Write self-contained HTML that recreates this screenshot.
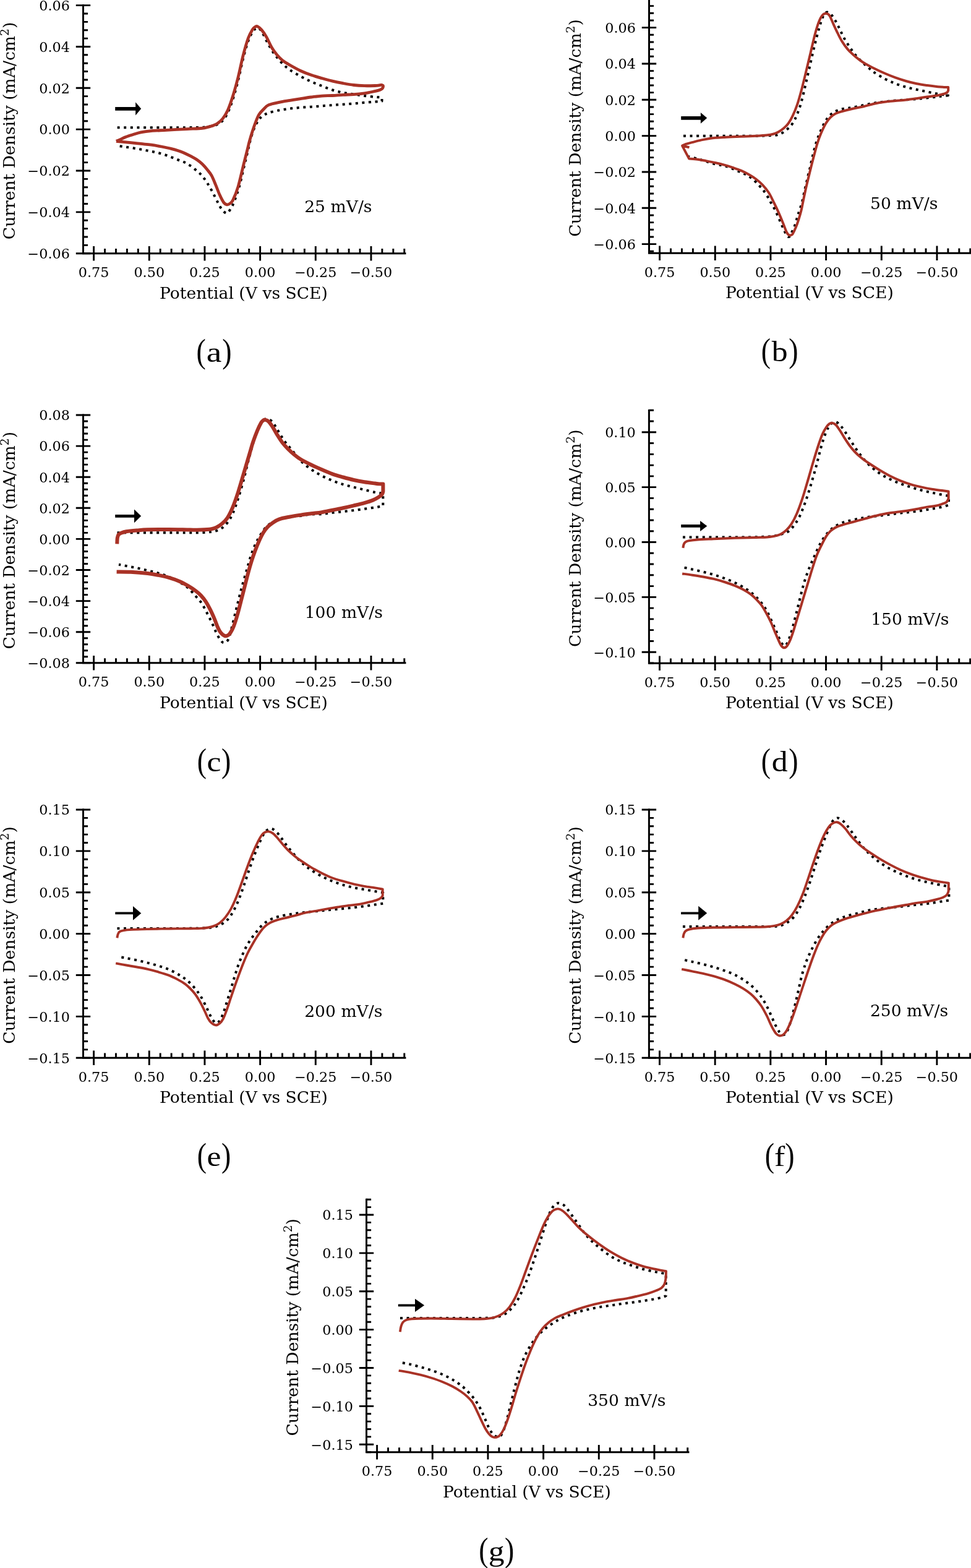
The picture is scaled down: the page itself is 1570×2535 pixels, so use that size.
<!DOCTYPE html>
<html lang="en">
<head>
<meta charset="utf-8">
<title>Cyclic voltammograms at different scan rates</title>
<style>
html,body{margin:0;padding:0;background:#fff;}
body{width:1570px;height:2535px;overflow:hidden;}
svg{display:block;}
text{white-space:pre;}
</style>
</head>
<body>
<svg xmlns="http://www.w3.org/2000/svg" width="1570" height="2535" viewBox="0 0 1570 2535" font-family='"DejaVu Serif","Liberation Serif",serif' fill="#000">
<g id="panel-a">
<path d="M134.5,7.15 V411.2M133,409.7 H656.45" fill="none" stroke="#000" stroke-width="3"/>
<path d="M122.8,409.7H146.2M134.5,396.33H142.1M134.5,382.96H142.1M134.5,369.59H142.1M134.5,356.22H142.1M122.8,342.85H146.2M134.5,329.48H142.1M134.5,316.11H142.1M134.5,302.74H142.1M134.5,289.37H142.1M122.8,276H146.2M134.5,262.63H142.1M134.5,249.26H142.1M134.5,235.89H142.1M134.5,222.52H142.1M122.8,209.15H146.2M134.5,195.78H142.1M134.5,182.41H142.1M134.5,169.04H142.1M134.5,155.67H142.1M122.8,142.3H146.2M134.5,128.93H142.1M134.5,115.56H142.1M134.5,102.19H142.1M134.5,88.82H142.1M122.8,75.45H146.2M134.5,62.08H142.1M134.5,48.71H142.1M134.5,35.34H142.1M134.5,21.97H142.1M122.8,8.6H146.2M653.78,402.1V409.7M635.85,402.1V409.7M617.91,402.1V409.7M599.98,398V421.4M582.04,402.1V409.7M564.1,402.1V409.7M546.17,402.1V409.7M528.24,402.1V409.7M510.3,398V421.4M492.37,402.1V409.7M474.43,402.1V409.7M456.5,402.1V409.7M438.56,402.1V409.7M420.62,398V421.4M402.69,402.1V409.7M384.75,402.1V409.7M366.82,402.1V409.7M348.88,402.1V409.7M330.95,398V421.4M313.01,402.1V409.7M295.08,402.1V409.7M277.14,402.1V409.7M259.21,402.1V409.7M241.27,398V421.4M223.34,402.1V409.7M205.4,402.1V409.7M187.47,402.1V409.7M169.53,402.1V409.7M151.6,398V421.4" fill="none" stroke="#000" stroke-width="2.9"/>
<g font-size="22.3" text-anchor="end"><text x="112.9" y="16.9">0.06</text><text x="112.9" y="83.75">0.04</text><text x="112.9" y="150.6">0.02</text><text x="112.9" y="217.45">0.00</text><text x="112.9" y="284.3">−0.02</text><text x="112.9" y="351.15">−0.04</text><text x="112.9" y="418">−0.06</text></g>
<g font-size="22.3" text-anchor="middle"><text x="151.6" y="448.2">0.75</text><text x="241.27" y="448.2">0.50</text><text x="330.95" y="448.2">0.25</text><text x="420.62" y="448.2">0.00</text><text x="510.3" y="448.2">−0.25</text><text x="599.98" y="448.2">−0.50</text></g>
<text x="393.95" y="482.9" font-size="26.6" text-anchor="middle">Potential (V vs SCE)</text>
<text transform="translate(24.2,211.45) rotate(-90)" font-size="26.6" text-anchor="middle">Current Density (mA/cm<tspan dy="-10.2" font-size="18.62">2</tspan><tspan dy="10.2">)</tspan></text>
<path d="M189.7,206.3C199.75,206.3 231.62,206.32 250,206.3C268.38,206.28 287.5,206.28 300,206.2C312.5,206.12 318.67,206.07 325,205.8C331.33,205.53 334.33,205.1 338,204.6C341.67,204.1 344.25,203.67 347,202.8C349.75,201.93 351.94,201.12 354.48,199.4C357.02,197.68 359.69,195.9 362.24,192.5C364.79,189.1 367.21,185 369.8,179C372.39,173 375.13,165.17 377.8,156.5C380.47,147.83 383.13,137.75 385.8,127C388.47,116.25 391.07,102.5 393.8,92C396.53,81.5 399.55,71 402.17,64C404.79,57 407.53,53 409.5,50C411.47,47 412.72,46.87 414,46C415.28,45.13 416.03,44.47 417.2,44.8C418.37,45.13 419.53,46.13 421,48C422.47,49.87 424,52.33 426,56C428,59.67 430.67,65.67 433,70C435.33,74.33 437.77,78.52 440,82C442.23,85.48 443.62,87.39 446.4,90.86C449.18,94.33 452.97,99.09 456.7,102.8C460.43,106.51 463.92,109.67 468.8,113.1C473.68,116.53 480.27,120.25 486,123.4C491.73,126.55 497.47,129.41 503.2,132C508.93,134.59 514.67,136.67 520.4,138.92C526.13,141.17 531.87,143.69 537.6,145.5C543.33,147.31 549.07,148.65 554.8,149.8C560.53,150.95 566.27,151.53 572,152.4C577.73,153.27 583.47,154.28 589.2,155C594.93,155.72 601.68,156.27 606.4,156.7C611.12,157.13 615.65,157.45 617.5,157.6L617.5,157.6L617.5,163.6L617.5,163.6C615.65,163.75 611.12,164.13 606.4,164.5C601.68,164.87 594.93,165.3 589.2,165.8C583.47,166.3 577.73,167 572,167.5C566.27,168 560.53,168.38 554.8,168.8C549.07,169.22 543.33,169.58 537.6,170C531.87,170.42 526.13,170.85 520.4,171.3C514.67,171.75 508.93,172.27 503.2,172.7C497.47,173.13 491.73,173.42 486,173.9C480.27,174.38 474.53,174.88 468.8,175.6C463.07,176.32 457.33,177.05 451.6,178.2C445.87,179.35 438.98,180.92 434.4,182.5C429.82,184.08 426.97,185.55 424.1,187.7C421.23,189.85 419.5,191.82 417.2,195.4C414.9,198.98 412.33,204.1 410.3,209.2C408.27,214.3 406.55,220.37 405,226C403.45,231.63 402.75,235.67 401,243C399.25,250.33 396.92,260 394.5,270C392.08,280 389.2,293.55 386.5,303C383.8,312.45 380.48,321.1 378.3,326.7C376.12,332.3 375.32,333.57 373.4,336.6C371.48,339.63 369.28,344.63 366.8,344.9C364.32,345.17 360.98,341.23 358.5,338.2C356.02,335.17 354.38,331.33 351.9,326.7C349.42,322.07 346.37,315.5 343.6,310.4C340.83,305.3 338.05,300.38 335.3,296.1C332.55,291.82 329.85,288 327.1,284.74C324.35,281.48 322.93,279.94 318.8,276.55C314.67,273.16 307.82,267.55 302.3,264.39C296.78,261.23 291.22,259.82 285.7,257.61C280.18,255.4 274.7,252.99 269.2,251.12C263.7,249.25 258.22,247.71 252.7,246.37C247.18,245.03 241.62,244.15 236.1,243.1C230.58,242.05 225.12,240.97 219.6,240.05C214.08,239.13 207.97,238.32 203,237.6C198.03,236.88 192,236.02 189.8,235.7" fill="none" stroke="#000" stroke-width="4" stroke-dasharray="4 6.6" stroke-linejoin="round"/>
<path d="M187.9,228.3C189.05,227.83 192.27,226.64 194.8,225.5C197.33,224.36 199.8,222.77 203.1,221.47C206.4,220.17 210.47,218.95 214.6,217.69C218.73,216.43 222.93,214.92 227.9,213.9C232.87,212.88 237.52,212.2 244.4,211.6C251.28,211 259.55,210.8 269.2,210.3C278.85,209.8 292.65,209.11 302.3,208.6C311.95,208.09 321.6,207.76 327.1,207.26C332.6,206.76 332.27,206.36 335.3,205.6C338.33,204.84 342.53,203.73 345.3,202.7C348.07,201.67 349.43,201.2 351.9,199.4C354.37,197.6 357.35,195.48 360.1,191.9C362.85,188.32 365.63,184.1 368.4,177.9C371.17,171.7 373.93,163.52 376.7,154.7C379.47,145.88 382.25,135.88 385,125C387.75,114.12 390.45,100.02 393.2,89.4C395.95,78.78 399.02,68.18 401.5,61.3C403.98,54.42 406.27,51.05 408.1,48.1C409.93,45.15 411.15,44.52 412.5,43.6C413.85,42.68 414.45,41.8 416.2,42.6C417.95,43.4 420.58,45.57 423,48.4C425.42,51.23 427.98,54.88 430.7,59.6C433.42,64.32 436.43,71.83 439.3,76.7C442.17,81.57 445,85.31 447.9,88.8C450.8,92.29 453.22,94.88 456.7,97.62C460.18,100.37 463.92,102.47 468.8,105.27C473.68,108.07 480.27,111.78 486,114.45C491.73,117.12 497.47,119.29 503.2,121.3C508.93,123.31 514.67,124.87 520.4,126.5C526.13,128.13 531.87,129.74 537.6,131.1C543.33,132.46 549.07,133.61 554.8,134.68C560.53,135.75 566.27,136.83 572,137.5C577.73,138.17 583.47,138.53 589.2,138.7C594.93,138.87 602.43,138.63 606.4,138.5C610.37,138.37 611.23,138.1 613,137.9C614.77,137.7 616.33,137.4 617,137.3L617,137.3C617.37,137.47 618.8,137.77 619.2,138.3C619.6,138.83 619.57,139.72 619.4,140.5C619.23,141.28 619.02,142.2 618.2,143C617.38,143.8 616.2,144.6 614.5,145.3C612.8,146 610.58,146.58 608,147.2C605.42,147.82 602.13,148.39 599,149C595.87,149.61 593.7,150.26 589.2,150.85C584.7,151.44 577.73,152.16 572,152.56C566.27,152.97 560.53,152.96 554.8,153.28C549.07,153.6 543.33,154.21 537.6,154.5C531.87,154.79 526.13,154.61 520.4,155.03C514.67,155.45 508.93,156.24 503.2,157C497.47,157.76 491.73,158.7 486,159.6C480.27,160.5 474.53,161.43 468.8,162.39C463.07,163.35 457.33,164.13 451.6,165.35C445.87,166.56 438.7,167.74 434.4,169.68C430.1,171.62 428.38,174.43 425.8,177C423.22,179.57 420.9,181.87 418.9,185.1C416.9,188.33 415.52,192.09 413.8,196.39C412.08,200.69 410.33,205.62 408.6,210.9C406.87,216.19 404.83,222.95 403.4,228.1C401.97,233.25 401.7,235.02 400,241.8C398.3,248.58 395.7,258.78 393.2,268.8C390.7,278.82 387.75,292.8 385,301.9C382.25,311 378.92,318.85 376.7,323.4C374.48,327.95 373.35,327.97 371.7,329.2C370.05,330.43 368.45,331.08 366.8,330.8C365.15,330.52 363.73,330.12 361.8,327.5C359.87,324.88 357.4,319.92 355.2,315.1C353,310.28 350.8,303.83 348.6,298.6C346.4,293.37 344.22,287.72 342,283.7C339.78,279.68 337.78,277.56 335.3,274.49C332.82,271.42 329.85,267.94 327.1,265.28C324.35,262.62 321.57,260.46 318.8,258.51C316.03,256.56 314.63,255.72 310.5,253.6C306.37,251.48 299.5,247.94 294,245.78C288.5,243.62 283.02,242.08 277.5,240.62C271.98,239.16 266.42,238.07 260.9,237C255.38,235.93 249.9,234.95 244.4,234.2C238.9,233.45 233.42,233.07 227.9,232.48C222.38,231.89 217.97,231.38 211.3,230.68C204.63,229.98 191.8,228.7 187.9,228.3" fill="none" stroke="#A93226" stroke-width="4.8" stroke-linejoin="round" stroke-linecap="butt"/>
<path d="M186.2,172.95H219.15V165.3L228.2,175.85L219.15,186.4V178.75H186.2z" fill="#000"/>
<text x="492.2" y="343.2" font-size="26.6">25 mV/s</text>
<g font-family='"Liberation Serif","DejaVu Serif",serif'><text transform="translate(317.44,585.8) scale(0.85,1)" font-size="54">(</text><text transform="translate(346,584.9) scale(1.18,1)" font-size="47" text-anchor="middle">a</text><text transform="translate(359.28,585.8) scale(0.85,1)" font-size="54">)</text></g>
</g>
<g id="panel-b">
<path d="M1049.5,-5 V410.7M1048,409.2 H1571.45" fill="none" stroke="#000" stroke-width="3"/>
<path d="M1049.5,406.27H1057.1M1037.8,394.6H1061.2M1049.5,382.93H1057.1M1049.5,371.27H1057.1M1049.5,359.6H1057.1M1049.5,347.93H1057.1M1037.8,336.27H1061.2M1049.5,324.6H1057.1M1049.5,312.93H1057.1M1049.5,301.27H1057.1M1049.5,289.6H1057.1M1037.8,277.93H1061.2M1049.5,266.27H1057.1M1049.5,254.6H1057.1M1049.5,242.93H1057.1M1049.5,231.26H1057.1M1037.8,219.6H1061.2M1049.5,207.93H1057.1M1049.5,196.26H1057.1M1049.5,184.6H1057.1M1049.5,172.93H1057.1M1037.8,161.26H1061.2M1049.5,149.6H1057.1M1049.5,137.93H1057.1M1049.5,126.26H1057.1M1049.5,114.6H1057.1M1037.8,102.93H1061.2M1049.5,91.26H1057.1M1049.5,79.6H1057.1M1049.5,67.93H1057.1M1049.5,56.26H1057.1M1037.8,44.6H1061.2M1049.5,32.93H1057.1M1049.5,21.26H1057.1M1049.5,9.6H1057.1M1049.5,-2.07H1057.1M1568.78,401.6V409.2M1550.84,401.6V409.2M1532.91,401.6V409.2M1514.97,397.5V420.9M1497.04,401.6V409.2M1479.1,401.6V409.2M1461.17,401.6V409.2M1443.23,401.6V409.2M1425.3,397.5V420.9M1407.36,401.6V409.2M1389.43,401.6V409.2M1371.49,401.6V409.2M1353.56,401.6V409.2M1335.62,397.5V420.9M1317.69,401.6V409.2M1299.75,401.6V409.2M1281.82,401.6V409.2M1263.88,401.6V409.2M1245.95,397.5V420.9M1228.01,401.6V409.2M1210.08,401.6V409.2M1192.14,401.6V409.2M1174.21,401.6V409.2M1156.27,397.5V420.9M1138.34,401.6V409.2M1120.4,401.6V409.2M1102.47,401.6V409.2M1084.53,401.6V409.2M1066.6,397.5V420.9" fill="none" stroke="#000" stroke-width="2.9"/>
<g font-size="22.3" text-anchor="end"><text x="1027.9" y="52.9">0.06</text><text x="1027.9" y="111.23">0.04</text><text x="1027.9" y="169.56">0.02</text><text x="1027.9" y="227.9">0.00</text><text x="1027.9" y="286.23">−0.02</text><text x="1027.9" y="344.57">−0.04</text><text x="1027.9" y="402.9">−0.06</text></g>
<g font-size="22.3" text-anchor="middle"><text x="1066.6" y="447.7">0.75</text><text x="1156.27" y="447.7">0.50</text><text x="1245.95" y="447.7">0.25</text><text x="1335.62" y="447.7">0.00</text><text x="1425.3" y="447.7">−0.25</text><text x="1514.97" y="447.7">−0.50</text></g>
<text x="1308.95" y="482.4" font-size="26.6" text-anchor="middle">Potential (V vs SCE)</text>
<text transform="translate(939.2,206.9) rotate(-90)" font-size="26.6" text-anchor="middle">Current Density (mA/cm<tspan dy="-10.2" font-size="18.62">2</tspan><tspan dy="10.2">)</tspan></text>
<path d="M1105,219.8C1114.17,219.8 1142.5,219.8 1160,219.8C1177.5,219.8 1197.5,219.83 1210,219.8C1222.5,219.77 1228.67,219.75 1235,219.6C1241.33,219.45 1244.33,219.17 1248,218.9C1251.67,218.63 1253.98,218.8 1257,218C1260.02,217.2 1263.15,215.9 1266.1,214.1C1269.05,212.3 1272.13,209.63 1274.7,207.2C1277.27,204.77 1279.2,203.08 1281.5,199.5C1283.8,195.92 1286.17,191.43 1288.52,185.7C1290.87,179.97 1293.26,173.4 1295.62,165.1C1297.98,156.8 1300.27,146.22 1302.69,135.9C1305.12,125.58 1307.72,113.82 1310.17,103.2C1312.62,92.58 1315.07,81.67 1317.4,72.2C1319.73,62.73 1322.05,53.7 1324.14,46.4C1326.23,39.1 1328.16,32.63 1329.94,28.4C1331.72,24.17 1333.39,22.43 1334.8,21C1336.21,19.57 1336.8,19.28 1338.4,19.8C1340,20.32 1342.25,21.67 1344.4,24.1C1346.55,26.53 1349,30.38 1351.3,34.4C1353.6,38.42 1355.92,43.62 1358.2,48.2C1360.48,52.78 1362.43,57.32 1365,61.9C1367.57,66.48 1370.73,71.4 1373.6,75.7C1376.47,80 1379.05,83.83 1382.2,87.7C1385.35,91.57 1389.05,95.47 1392.5,98.9C1395.95,102.33 1399.45,105.3 1402.9,108.3C1406.35,111.3 1408.62,113.73 1413.2,116.9C1417.78,120.07 1424.67,124.28 1430.4,127.3C1436.13,130.32 1441.87,132.77 1447.6,135C1453.33,137.23 1459.07,139.07 1464.8,140.7C1470.53,142.33 1476.27,143.52 1482,144.8C1487.73,146.08 1493.47,147.25 1499.2,148.4C1504.93,149.55 1510.77,150.73 1516.4,151.7C1522.03,152.67 1530.23,153.78 1533,154.2L1533,154.2C1530.23,154.53 1524.9,155.22 1516.4,156.2C1507.9,157.17 1493.47,158.99 1482,160.05C1470.53,161.11 1459.07,161.44 1447.6,162.54C1436.13,163.64 1424.67,164.81 1413.2,166.67C1401.73,168.53 1387.4,172.09 1378.8,173.7C1370.2,175.31 1366.47,175.15 1361.6,176.3C1356.73,177.45 1353.03,178.75 1349.6,180.6C1346.17,182.45 1343.5,184.83 1341,187.4C1338.5,189.97 1336.84,192.27 1334.62,196C1332.4,199.73 1330.09,204.35 1327.7,209.8C1325.31,215.25 1322.68,221.25 1320.3,228.7C1317.92,236.15 1315.12,247.62 1313.4,254.5C1311.68,261.38 1311.1,265.25 1310,270C1308.9,274.75 1308.18,277.17 1306.8,283C1305.42,288.83 1303.42,297.5 1301.7,305C1299.98,312.5 1298.37,321.08 1296.5,328C1294.63,334.92 1292,341.72 1290.5,346.5C1289,351.28 1288.53,353.28 1287.5,356.7C1286.47,360.12 1285.53,363.83 1284.3,367C1283.07,370.17 1281.15,373.4 1280.1,375.7C1279.05,378 1278.77,379.58 1278,380.8C1277.23,382.02 1276.42,382.87 1275.5,383C1274.58,383.13 1273.76,383.38 1272.5,381.6C1271.24,379.82 1269.58,375.72 1267.96,372.3C1266.34,368.88 1264.51,364.97 1262.8,361.1C1261.09,357.23 1259.42,352.97 1257.7,349.1C1255.98,345.23 1254.38,341.48 1252.5,337.9C1250.62,334.32 1248.27,330.9 1246.4,327.6C1244.53,324.3 1243.3,321.4 1241.3,318.1C1239.3,314.8 1236.7,310.84 1234.4,307.8C1232.1,304.76 1230.15,302.65 1227.5,299.85C1224.85,297.05 1221.59,293.64 1218.5,290.98C1215.41,288.32 1212.32,285.92 1208.99,283.91C1205.66,281.9 1202.55,280.75 1198.5,278.91C1194.45,277.07 1189.28,274.67 1184.7,272.85C1180.12,271.03 1175.58,269.22 1171,267.99C1166.42,266.76 1162.08,266.67 1157.2,265.5C1152.32,264.33 1146.57,262.45 1141.7,261C1136.83,259.55 1133.58,258.3 1128,256.8C1122.42,255.3 1111.5,252.8 1108.2,252" fill="none" stroke="#000" stroke-width="4" stroke-dasharray="4 6.6" stroke-linejoin="round"/>
<path d="M1114.5,238.2L1103.1,235.6L1103.1,235.6C1104.1,235.15 1106.38,233.82 1109.1,232.9C1111.82,231.98 1115.38,231.15 1119.4,230.1C1123.42,229.05 1128.33,227.67 1133.2,226.6C1138.07,225.53 1142.3,224.47 1148.6,223.7C1154.9,222.93 1162.97,222.48 1171,222C1179.03,221.52 1188.2,221.18 1196.8,220.8C1205.4,220.42 1215.43,220.08 1222.6,219.7C1229.77,219.32 1235.22,218.99 1239.8,218.5C1244.38,218.01 1246.95,217.67 1250.1,216.79C1253.25,215.91 1255.83,214.8 1258.7,213.2C1261.57,211.6 1264.63,209.48 1267.3,207.2C1269.97,204.92 1272.32,202.8 1274.7,199.5C1277.09,196.2 1279.28,192.28 1281.61,187.4C1283.94,182.52 1286.33,177.07 1288.68,170.2C1291.03,163.33 1293.34,155.08 1295.73,146.2C1298.12,137.32 1300.57,126.93 1303.02,116.9C1305.47,106.87 1308.05,96.03 1310.45,86C1312.85,75.97 1315.2,65.02 1317.4,56.7C1319.61,48.38 1321.66,41.4 1323.68,36.1C1325.7,30.8 1327.56,27.28 1329.5,24.9C1331.44,22.52 1333.38,21.8 1335.3,21.8C1337.22,21.8 1338.92,21.93 1341,24.9C1343.08,27.87 1345.52,34.72 1347.8,39.6C1350.08,44.48 1352.4,49.62 1354.7,54.2C1357,58.78 1359.02,62.95 1361.6,67.1C1364.18,71.25 1367.33,75.67 1370.2,79.1C1373.07,82.53 1375.65,84.83 1378.8,87.7C1381.95,90.57 1385.67,93.72 1389.1,96.3C1392.53,98.88 1395.38,100.84 1399.4,103.2C1403.42,105.56 1408.03,107.94 1413.2,110.49C1418.37,113.04 1424.67,116.02 1430.4,118.5C1436.13,120.98 1441.87,123.32 1447.6,125.4C1453.33,127.48 1459.07,129.35 1464.8,131C1470.53,132.65 1476.27,134.12 1482,135.3C1487.73,136.48 1493.47,137.28 1499.2,138.1C1504.93,138.92 1511.93,139.73 1516.4,140.2C1520.87,140.67 1523.2,140.75 1526,140.9C1528.8,141.05 1532,141.07 1533.2,141.1L1533.2,141.1L1533.2,146.5L1533.2,146.5C1532.92,146.98 1532.45,148.6 1531.5,149.4C1530.55,150.2 1529.08,150.73 1527.5,151.3C1525.92,151.87 1523.85,152.32 1522,152.8C1520.15,153.28 1520.2,153.58 1516.4,154.2C1512.6,154.82 1504.93,155.71 1499.2,156.54C1493.47,157.37 1487.73,158.33 1482,159.15C1476.27,159.97 1470.53,160.8 1464.8,161.45C1459.07,162.1 1453.33,162.5 1447.6,163.04C1441.87,163.58 1436.13,163.92 1430.4,164.7C1424.67,165.48 1418.93,166.49 1413.2,167.74C1407.47,168.99 1401.73,170.87 1396,172.2C1390.27,173.53 1384.53,174.4 1378.8,175.7C1373.07,177 1366.18,178.7 1361.6,180C1357.02,181.3 1354.46,181.87 1351.3,183.5C1348.14,185.13 1345.32,187.12 1342.65,189.79C1339.98,192.46 1337.77,195.3 1335.28,199.5C1332.79,203.7 1329.93,209.85 1327.72,215C1325.51,220.15 1323.84,224.67 1322,230.4C1320.16,236.13 1318.47,242.8 1316.7,249.4C1314.93,256 1312.85,264.28 1311.4,270C1309.95,275.72 1309.38,278.03 1308,283.7C1306.62,289.37 1304.69,296.95 1303.1,304C1301.51,311.05 1299.71,320 1298.45,326C1297.19,332 1296.79,335.02 1295.55,340C1294.31,344.98 1292.47,351.27 1291,355.9C1289.53,360.53 1288.22,364.17 1286.7,367.8C1285.18,371.43 1283.02,375.73 1281.9,377.7C1280.78,379.67 1280.78,379.13 1280,379.6C1279.22,380.07 1278.1,380.57 1277.2,380.5C1276.3,380.43 1275.37,379.85 1274.6,379.2C1273.83,378.55 1273.23,377.65 1272.6,376.6C1271.97,375.55 1271.97,375.77 1270.8,372.9C1269.63,370.03 1267.62,364.37 1265.6,359.4C1263.58,354.43 1261,348.25 1258.7,343.1C1256.4,337.95 1254.38,333.73 1251.8,328.5C1249.22,323.27 1246.35,316.66 1243.2,311.71C1240.05,306.76 1236.33,302.46 1232.9,298.8C1229.47,295.14 1226.03,292.4 1222.6,289.76C1219.17,287.12 1216.32,285.24 1212.3,282.93C1208.28,280.62 1203.1,277.89 1198.5,275.89C1193.9,273.89 1189.28,272.46 1184.7,270.91C1180.12,269.36 1175.58,267.88 1171,266.6C1166.42,265.32 1162.08,264.32 1157.2,263.25C1152.32,262.18 1146.57,261.07 1141.7,260.15C1136.83,259.23 1132.58,258.33 1128,257.74C1123.42,257.15 1116.5,256.79 1114.2,256.6L1114.2,256.6L1103.1,235.6" fill="none" stroke="#A93226" stroke-width="4" stroke-linejoin="round" stroke-linecap="butt"/>
<path d="M1101.2,187.95H1132.9V181.95L1143.2,190.85L1132.9,199.75V193.75H1101.2z" fill="#000"/>
<text x="1407" y="337.9" font-size="26.6">50 mV/s</text>
<g font-family='"Liberation Serif","DejaVu Serif",serif'><text transform="translate(1230.67,585.3) scale(0.85,1)" font-size="54">(</text><text transform="translate(1260.6,584.4) scale(1.1,1)" font-size="47" text-anchor="middle">b</text><text transform="translate(1275.24,585.3) scale(0.85,1)" font-size="54">)</text></g>
</g>
<g id="panel-c">
<path d="M134.5,669.55 V1073.3M133,1071.8 H656.45" fill="none" stroke="#000" stroke-width="3"/>
<path d="M122.8,1071.8H146.2M134.5,1061.78H142.1M134.5,1051.76H142.1M134.5,1041.74H142.1M134.5,1031.72H142.1M122.8,1021.7H146.2M134.5,1011.68H142.1M134.5,1001.66H142.1M134.5,991.64H142.1M134.5,981.62H142.1M122.8,971.6H146.2M134.5,961.58H142.1M134.5,951.56H142.1M134.5,941.54H142.1M134.5,931.52H142.1M122.8,921.5H146.2M134.5,911.48H142.1M134.5,901.46H142.1M134.5,891.44H142.1M134.5,881.42H142.1M122.8,871.4H146.2M134.5,861.38H142.1M134.5,851.36H142.1M134.5,841.34H142.1M134.5,831.32H142.1M122.8,821.3H146.2M134.5,811.28H142.1M134.5,801.26H142.1M134.5,791.24H142.1M134.5,781.22H142.1M122.8,771.2H146.2M134.5,761.18H142.1M134.5,751.16H142.1M134.5,741.14H142.1M134.5,731.12H142.1M122.8,721.1H146.2M134.5,711.08H142.1M134.5,701.06H142.1M134.5,691.04H142.1M134.5,681.02H142.1M122.8,671H146.2M653.78,1064.2V1071.8M635.85,1064.2V1071.8M617.91,1064.2V1071.8M599.98,1060.1V1083.5M582.04,1064.2V1071.8M564.1,1064.2V1071.8M546.17,1064.2V1071.8M528.24,1064.2V1071.8M510.3,1060.1V1083.5M492.37,1064.2V1071.8M474.43,1064.2V1071.8M456.5,1064.2V1071.8M438.56,1064.2V1071.8M420.62,1060.1V1083.5M402.69,1064.2V1071.8M384.75,1064.2V1071.8M366.82,1064.2V1071.8M348.88,1064.2V1071.8M330.95,1060.1V1083.5M313.01,1064.2V1071.8M295.08,1064.2V1071.8M277.14,1064.2V1071.8M259.21,1064.2V1071.8M241.27,1060.1V1083.5M223.34,1064.2V1071.8M205.4,1064.2V1071.8M187.47,1064.2V1071.8M169.53,1064.2V1071.8M151.6,1060.1V1083.5" fill="none" stroke="#000" stroke-width="2.9"/>
<g font-size="22.3" text-anchor="end"><text x="112.9" y="679.3">0.08</text><text x="112.9" y="729.4">0.06</text><text x="112.9" y="779.5">0.04</text><text x="112.9" y="829.6">0.02</text><text x="112.9" y="879.7">0.00</text><text x="112.9" y="929.8">−0.02</text><text x="112.9" y="979.9">−0.04</text><text x="112.9" y="1030">−0.06</text><text x="112.9" y="1080.1">−0.08</text></g>
<g font-size="22.3" text-anchor="middle"><text x="151.6" y="1110.3">0.75</text><text x="241.27" y="1110.3">0.50</text><text x="330.95" y="1110.3">0.25</text><text x="420.62" y="1110.3">0.00</text><text x="510.3" y="1110.3">−0.25</text><text x="599.98" y="1110.3">−0.50</text></g>
<text x="393.95" y="1145" font-size="26.6" text-anchor="middle">Potential (V vs SCE)</text>
<text transform="translate(24.2,873.7) rotate(-90)" font-size="26.6" text-anchor="middle">Current Density (mA/cm<tspan dy="-10.2" font-size="18.62">2</tspan><tspan dy="10.2">)</tspan></text>
<path d="M189.5,861.2C199.58,861.2 231.58,861.2 250,861.2C268.42,861.2 287.53,861.2 300,861.2C312.47,861.2 317.8,861.43 324.8,861.2C331.8,860.97 337.7,860.37 342,859.8C346.3,859.23 347.73,858.85 350.6,857.8C353.47,856.75 356.33,855.65 359.2,853.5C362.07,851.35 364.93,848.78 367.8,844.9C370.67,841.02 373.53,836.65 376.4,830.2C379.27,823.75 382.13,815.08 385,806.2C387.87,797.32 390.73,787.52 393.6,776.9C396.47,766.28 399.33,753.38 402.2,742.5C405.07,731.62 407.93,720.48 410.8,711.6C413.67,702.72 416.87,694.55 419.4,689.2C421.93,683.85 423.93,681.5 426,679.5C428.07,677.5 429.53,676.92 431.8,677.2C434.07,677.48 437.17,678.87 439.6,681.17C442.03,683.47 444.12,687.42 446.4,691.03C448.68,694.63 450.72,698.69 453.3,702.8C455.88,706.91 458.75,711.55 461.9,715.7C465.05,719.85 468.18,722.83 472.2,727.7C476.22,732.58 480.83,739.76 486,744.95C491.17,750.14 497.47,754.78 503.2,758.82C508.93,762.86 514.67,766.15 520.4,769.19C526.13,772.23 531.87,774.73 537.6,777.06C543.33,779.38 549.07,781.38 554.8,783.14C560.53,784.9 566.27,786.15 572,787.6C577.73,789.05 583.47,790.48 589.2,791.86C594.93,793.24 601.38,794.94 606.4,795.9C611.42,796.86 617.15,797.32 619.3,797.6L619.3,797.6L619.3,818.2L619.3,818.2C617.15,818.56 611.42,819.61 606.4,820.38C601.38,821.15 594.93,822.01 589.2,822.8C583.47,823.59 577.73,824.38 572,825.1C566.27,825.82 560.53,826.48 554.8,827.1C549.07,827.72 543.33,828.13 537.6,828.8C531.87,829.47 526.13,830.65 520.4,831.1C514.67,831.55 508.93,831.05 503.2,831.52C497.47,831.99 491.73,833.19 486,833.91C480.27,834.63 474.53,834.87 468.8,835.85C463.07,836.84 456.18,838.46 451.6,839.82C447.02,841.19 444.73,842.14 441.3,844.04C437.87,845.94 434.34,847.78 431,851.21C427.66,854.64 424.16,860.07 421.26,864.6C418.36,869.13 416.03,873.23 413.59,878.4C411.15,883.57 408.63,889.87 406.6,895.6C404.57,901.33 402.83,907.93 401.4,912.8C399.97,917.67 399.63,919.1 398,924.8C396.37,930.5 393.53,939.97 391.6,947C389.67,954.03 388.13,960.17 386.4,967C384.67,973.83 383.12,980.17 381.2,988C379.28,995.83 376.82,1006.47 374.87,1014C372.92,1021.53 371.55,1029 369.5,1033.2C367.45,1037.4 364.75,1038.92 362.6,1039.2C360.45,1039.48 358.75,1037.62 356.6,1034.9C354.45,1032.18 351.98,1027.48 349.7,1022.9C347.42,1018.32 345.47,1012.85 342.9,1007.4C340.33,1001.95 337.17,995.65 334.3,990.2C331.43,984.75 328.72,979.15 325.7,974.7C322.68,970.25 319.8,967.52 316.2,963.5C312.6,959.48 308.4,954.32 304.1,950.6C299.8,946.88 295.55,944.2 290.4,941.2C285.25,938.2 278.93,935.03 273.2,932.6C267.47,930.17 261.73,928.32 256,926.6C250.27,924.88 244.53,923.68 238.8,922.3C233.07,920.92 227.33,919.52 221.6,918.3C215.87,917.08 209.33,915.93 204.4,915C199.47,914.07 194.07,913.08 192,912.7" fill="none" stroke="#000" stroke-width="4" stroke-dasharray="4 6.6" stroke-linejoin="round"/>
<path d="M189.3,879.3C189.38,877.72 189.43,872.25 189.8,869.8C190.17,867.35 190.5,865.95 191.5,864.6C192.5,863.25 193.65,862.61 195.8,861.73C197.95,860.85 200.1,860 204.4,859.3C208.7,858.59 215.87,857.99 221.6,857.5C227.33,857.01 230.2,856.6 238.8,856.35C247.4,856.1 261.73,855.96 273.2,856C284.67,856.04 299,856.5 307.6,856.6C316.2,856.7 319.07,856.83 324.8,856.6C330.53,856.37 337.7,855.92 342,855.2C346.3,854.48 347.73,853.73 350.6,852.3C353.47,850.87 356.33,849.13 359.2,846.6C362.07,844.07 364.93,841.55 367.8,837.1C370.67,832.65 373.53,826.77 376.4,819.9C379.27,813.03 382.03,805.07 385,795.9C387.97,786.73 391.08,775.52 394.24,764.9C397.4,754.28 401.48,740.52 403.94,732.2C406.4,723.88 406.98,721.02 409.01,715C411.04,708.98 413.89,701.4 416.1,696.1C418.31,690.8 420.72,685.92 422.29,683.2C423.86,680.48 424.48,680.57 425.5,679.8C426.52,679.03 426.92,678.32 428.4,678.6C429.88,678.88 432.25,679.43 434.4,681.5C436.55,683.57 439,687.44 441.3,691C443.6,694.56 445.63,698.71 448.2,702.83C450.77,706.95 453.85,711.95 456.7,715.7C459.55,719.45 462.13,722.11 465.3,725.31C468.47,728.51 472.25,732.04 475.7,734.91C479.15,737.77 481.42,739.73 486,742.5C490.58,745.27 497.47,748.71 503.2,751.51C508.93,754.31 514.67,756.82 520.4,759.29C526.13,761.76 531.87,764.29 537.6,766.32C543.33,768.36 549.07,769.89 554.8,771.5C560.53,773.11 566.27,774.67 572,775.97C577.73,777.27 583.47,778.37 589.2,779.3C594.93,780.23 602.43,781.07 606.4,781.58C610.37,782.09 610.83,782.22 613,782.37C615.17,782.52 618.33,782.48 619.4,782.5L619.4,782.5L619.4,794.5L619.4,794.5C619.17,795.18 619.15,797.08 618,798.6C616.85,800.12 615.02,801.93 612.5,803.6C609.98,805.27 606.78,807.02 602.9,808.6C599.02,810.18 594.35,811.63 589.2,813.1C584.05,814.57 577.73,816.03 572,817.4C566.27,818.77 560.53,820.08 554.8,821.3C549.07,822.52 543.33,823.55 537.6,824.7C531.87,825.85 526.13,827.26 520.4,828.2C514.67,829.14 508.93,829.59 503.2,830.32C497.47,831.06 491.73,831.75 486,832.61C480.27,833.47 474.53,834.33 468.8,835.45C463.07,836.57 456.18,837.74 451.6,839.32C447.02,840.9 444.45,842.84 441.3,844.94C438.15,847.04 435.28,849.26 432.7,851.94C430.12,854.62 428.12,857.16 425.8,861C423.48,864.84 420.97,870.1 418.75,875C416.53,879.9 414.5,884.97 412.48,890.4C410.46,895.83 408.49,901.57 406.6,907.6C404.71,913.63 402.85,920.28 401.13,926.6C399.41,932.92 398.11,938.43 396.31,945.5C394.51,952.57 392.42,960.92 390.34,969C388.26,977.08 385.87,986.83 383.82,994C381.77,1001.17 379.79,1007.42 378.06,1012C376.33,1016.58 374.89,1019.08 373.46,1021.5C372.03,1023.92 371.16,1025.42 369.5,1026.5C367.84,1027.58 365.58,1028.6 363.5,1028C361.42,1027.4 358.89,1025.18 356.99,1022.9C355.09,1020.62 353.76,1017.88 352.11,1014.3C350.46,1010.72 349.02,1006 347.08,1001.4C345.14,996.8 342.85,991.45 340.48,986.7C338.11,981.95 335.48,976.92 332.87,972.9C330.26,968.88 327.58,965.56 324.8,962.6C322.02,959.64 319.65,957.73 316.2,955.14C312.75,952.55 308.4,949.63 304.1,947.09C299.8,944.55 295.55,942.09 290.4,939.89C285.25,937.69 278.93,935.54 273.2,933.88C267.47,932.22 261.73,931.06 256,929.92C250.27,928.78 246.25,927.87 238.8,927.02C231.35,926.17 219.67,925.22 211.3,924.8C202.93,924.38 192.38,924.55 188.6,924.5" fill="none" stroke="#A93226" stroke-width="6" stroke-linejoin="round" stroke-linecap="butt"/>
<path d="M186.2,831.95H217V823.45L228.2,834.35L217,845.25V836.75H186.2z" fill="#000"/>
<text x="492.7" y="998.7" font-size="26.6">100 mV/s</text>
<g font-family='"Liberation Serif","DejaVu Serif",serif'><text transform="translate(318.81,1247.9) scale(0.85,1)" font-size="54">(</text><text transform="translate(346,1247) scale(1.1,1)" font-size="47" text-anchor="middle">c</text><text transform="translate(357.91,1247.9) scale(0.85,1)" font-size="54">)</text></g>
</g>
<g id="panel-d">
<path d="M1049.4,662.05 V1073.7M1047.9,1072.2 H1571.35" fill="none" stroke="#000" stroke-width="3"/>
<path d="M1049.4,1071.97H1057M1037.7,1054.2H1061.1M1049.4,1036.43H1057M1049.4,1018.66H1057M1049.4,1000.89H1057M1049.4,983.12H1057M1037.7,965.35H1061.1M1049.4,947.58H1057M1049.4,929.81H1057M1049.4,912.04H1057M1049.4,894.27H1057M1037.7,876.5H1061.1M1049.4,858.73H1057M1049.4,840.96H1057M1049.4,823.19H1057M1049.4,805.42H1057M1037.7,787.65H1061.1M1049.4,769.88H1057M1049.4,752.11H1057M1049.4,734.34H1057M1049.4,716.57H1057M1037.7,698.8H1061.1M1049.4,681.03H1057M1049.4,663.26H1057M1568.68,1064.6V1072.2M1550.74,1064.6V1072.2M1532.81,1064.6V1072.2M1514.88,1060.5V1083.9M1496.94,1064.6V1072.2M1479,1064.6V1072.2M1461.07,1064.6V1072.2M1443.13,1064.6V1072.2M1425.2,1060.5V1083.9M1407.26,1064.6V1072.2M1389.33,1064.6V1072.2M1371.39,1064.6V1072.2M1353.46,1064.6V1072.2M1335.53,1060.5V1083.9M1317.59,1064.6V1072.2M1299.65,1064.6V1072.2M1281.72,1064.6V1072.2M1263.79,1064.6V1072.2M1245.85,1060.5V1083.9M1227.91,1064.6V1072.2M1209.98,1064.6V1072.2M1192.05,1064.6V1072.2M1174.11,1064.6V1072.2M1156.17,1060.5V1083.9M1138.24,1064.6V1072.2M1120.31,1064.6V1072.2M1102.37,1064.6V1072.2M1084.43,1064.6V1072.2M1066.5,1060.5V1083.9" fill="none" stroke="#000" stroke-width="2.9"/>
<g font-size="22.3" text-anchor="end"><text x="1027.8" y="707.1">0.10</text><text x="1027.8" y="795.95">0.05</text><text x="1027.8" y="884.8">0.00</text><text x="1027.8" y="973.65">−0.05</text><text x="1027.8" y="1062.5">−0.10</text></g>
<g font-size="22.3" text-anchor="middle"><text x="1066.5" y="1110.7">0.75</text><text x="1156.17" y="1110.7">0.50</text><text x="1245.85" y="1110.7">0.25</text><text x="1335.53" y="1110.7">0.00</text><text x="1425.2" y="1110.7">−0.25</text><text x="1514.88" y="1110.7">−0.50</text></g>
<text x="1308.85" y="1145.4" font-size="26.6" text-anchor="middle">Potential (V vs SCE)</text>
<text transform="translate(939.1,870.15) rotate(-90)" font-size="26.6" text-anchor="middle">Current Density (mA/cm<tspan dy="-10.2" font-size="18.62">2</tspan><tspan dy="10.2">)</tspan></text>
<path d="M1104,868.6C1113.33,868.6 1142.33,868.62 1160,868.6C1177.67,868.58 1196.67,868.67 1210,868.5C1223.33,868.33 1232.17,868.1 1240,867.6C1247.83,867.1 1252.73,866.28 1257,865.5C1261.27,864.72 1262.71,863.9 1265.6,862.9C1268.48,861.9 1271.35,861.65 1274.31,859.5C1277.27,857.35 1280.3,854.02 1283.35,850C1286.4,845.98 1289.45,841.85 1292.6,835.4C1295.75,828.95 1299.19,819.9 1302.27,811.3C1305.35,802.7 1308.19,793.4 1311.1,783.8C1314,774.2 1316.98,763.73 1319.7,753.7C1322.42,743.67 1324.82,732.62 1327.41,723.6C1330,714.58 1332.62,705.9 1335.22,699.6C1337.82,693.3 1340.32,688.73 1343,685.8C1345.68,682.87 1348.48,681.43 1351.3,682C1354.12,682.57 1357.03,685.98 1359.9,689.2C1362.77,692.42 1365.63,697 1368.5,701.3C1371.37,705.6 1374.23,710.57 1377.1,715C1379.97,719.43 1382.55,723.49 1385.7,727.9C1388.85,732.31 1392.57,737.39 1396,741.48C1399.43,745.57 1402,748.51 1406.3,752.43C1410.6,756.35 1416.35,761.31 1421.8,765.02C1427.25,768.73 1433.27,771.87 1439,774.69C1444.73,777.52 1450.47,779.78 1456.2,781.97C1461.93,784.16 1467.67,786 1473.4,787.81C1479.13,789.61 1484.87,791.32 1490.6,792.8C1496.33,794.28 1502.07,795.47 1507.8,796.7C1513.53,797.93 1520.63,799.38 1525,800.2C1529.37,801.02 1532.5,801.37 1534,801.6L1534,801.6L1534,816.2L1534,816.2C1532.5,816.68 1529.37,818.05 1525,819.1C1520.63,820.15 1513.53,821.45 1507.8,822.5C1502.07,823.55 1496.33,824.53 1490.6,825.4C1484.87,826.27 1479.13,827.03 1473.4,827.7C1467.67,828.37 1461.93,828.75 1456.2,829.4C1450.47,830.05 1444.73,830.88 1439,831.6C1433.27,832.32 1427.53,833 1421.8,833.7C1416.07,834.4 1410.33,834.95 1404.6,835.8C1398.87,836.65 1393.13,837.67 1387.4,838.8C1381.67,839.93 1375.07,841.3 1370.2,842.6C1365.33,843.9 1361.93,844.93 1358.2,846.6C1354.47,848.27 1350.95,850.32 1347.8,852.6C1344.65,854.88 1342.15,857.15 1339.28,860.3C1336.41,863.45 1333.18,867.62 1330.6,871.5C1328.02,875.38 1326.08,879.02 1323.8,883.6C1321.52,888.18 1319.2,893.85 1316.9,899C1314.6,904.15 1312.25,909 1310,914.5C1307.75,920 1305.37,926.25 1303.4,932C1301.43,937.75 1299.92,942.83 1298.2,949C1296.48,955.17 1294.82,962.17 1293.1,969C1291.38,975.83 1289.62,983.17 1287.9,990C1286.18,996.83 1284.52,1003.67 1282.8,1010C1281.08,1016.33 1279.33,1022.92 1277.6,1028C1275.87,1033.08 1274.12,1037.87 1272.4,1040.5C1270.68,1043.13 1269.02,1044.45 1267.3,1043.8C1265.58,1043.15 1264.1,1040.38 1262.1,1036.6C1260.1,1032.82 1257.58,1026.25 1255.3,1021.1C1253.02,1015.95 1250.98,1011.28 1248.4,1005.7C1245.82,1000.12 1242.67,992.77 1239.8,987.6C1236.93,982.43 1234.65,979 1231.2,974.7C1227.75,970.4 1223.4,965.67 1219.1,961.8C1214.8,957.93 1210.55,954.8 1205.4,951.5C1200.25,948.2 1193.93,944.78 1188.2,942C1182.47,939.22 1176.73,936.95 1171,934.8C1165.27,932.65 1159.53,930.82 1153.8,929.1C1148.07,927.38 1142.33,925.93 1136.6,924.5C1130.87,923.07 1124.57,921.68 1119.4,920.5C1114.23,919.32 1107.9,917.92 1105.6,917.4" fill="none" stroke="#000" stroke-width="4" stroke-dasharray="4 6.6" stroke-linejoin="round"/>
<path d="M1104.4,885.8C1104.6,884.85 1104.97,881.68 1105.6,880.1C1106.23,878.52 1106.77,877.3 1108.2,876.3C1109.63,875.3 1110.9,874.75 1114.2,874.1C1117.5,873.45 1121.4,872.88 1128,872.4C1134.6,871.92 1143.77,871.63 1153.8,871.2C1163.83,870.77 1176.73,870.18 1188.2,869.8C1199.67,869.42 1214,869.13 1222.6,868.9C1231.2,868.67 1234.93,868.73 1239.8,868.4C1244.67,868.07 1248.08,867.67 1251.8,866.9C1255.52,866.13 1258.94,865.32 1262.1,863.8C1265.26,862.28 1267.84,860.53 1270.74,857.8C1273.64,855.07 1276.57,852 1279.51,847.4C1282.45,842.8 1285.44,837.07 1288.4,830.2C1291.37,823.33 1294.34,815.08 1297.3,806.2C1300.26,797.32 1303.18,786.93 1306.15,776.9C1309.12,766.87 1312.19,755.73 1315.12,746C1318.04,736.27 1321.21,725.95 1323.7,718.5C1326.19,711.05 1327.95,706.03 1330.07,701.3C1332.19,696.57 1334.58,692.78 1336.4,690.1C1338.22,687.42 1339.52,686.27 1341,685.2C1342.48,684.13 1343.58,683.45 1345.3,683.7C1347.02,683.95 1349.15,684.63 1351.3,686.7C1353.45,688.77 1355.92,692.67 1358.2,696.1C1360.48,699.53 1362.43,703.28 1365,707.3C1367.57,711.32 1370.73,716.33 1373.6,720.2C1376.47,724.07 1379.05,727.2 1382.2,730.5C1385.35,733.8 1388.77,736.96 1392.5,740C1396.23,743.04 1399.72,745.48 1404.6,748.76C1409.48,752.04 1416.07,756.24 1421.8,759.7C1427.53,763.16 1433.27,766.57 1439,769.5C1444.73,772.43 1450.47,775 1456.2,777.3C1461.93,779.6 1467.67,781.58 1473.4,783.3C1479.13,785.02 1484.87,786.31 1490.6,787.6C1496.33,788.89 1502.07,790.07 1507.8,791.02C1513.53,791.97 1520.7,792.72 1525,793.3C1529.3,793.88 1532.17,794.3 1533.6,794.5L1533.6,794.5L1533.6,806.2L1533.6,806.2C1533.02,807.17 1531.83,810.56 1530.1,812C1528.37,813.44 1526.07,813.85 1523.2,814.82C1520.33,815.79 1516.9,817.01 1512.9,817.81C1508.9,818.61 1504.35,818.74 1499.2,819.6C1494.05,820.47 1487.73,821.93 1482,823C1476.27,824.07 1470.53,825.13 1464.8,826C1459.07,826.87 1453.33,827.44 1447.6,828.22C1441.87,829 1436.13,829.61 1430.4,830.66C1424.67,831.71 1418.93,833.08 1413.2,834.53C1407.47,835.98 1401.73,837.77 1396,839.35C1390.27,840.93 1384.53,842.42 1378.8,844C1373.07,845.58 1366.18,847.37 1361.6,848.8C1357.02,850.23 1354.45,850.97 1351.3,852.6C1348.15,854.23 1345.28,856.17 1342.7,858.6C1340.12,861.03 1338.1,863.62 1335.8,867.2C1333.5,870.78 1331.4,875.08 1328.9,880.1C1326.4,885.12 1323.23,891.23 1320.8,897.3C1318.37,903.37 1316.33,910.22 1314.3,916.5C1312.27,922.78 1310.48,928.83 1308.6,935C1306.72,941.17 1304.87,947.33 1303,953.5C1301.13,959.67 1299.23,965.92 1297.4,972C1295.57,978.08 1293.73,984.25 1292,990C1290.27,995.75 1288.57,1001.33 1287,1006.5C1285.43,1011.67 1284.13,1016.33 1282.6,1021C1281.07,1025.67 1279.5,1030.6 1277.8,1034.5C1276.1,1038.4 1274.1,1042.27 1272.4,1044.4C1270.7,1046.53 1269.17,1047.45 1267.6,1047.3C1266.03,1047.15 1264.48,1045.57 1263,1043.5C1261.52,1041.43 1260.28,1038.33 1258.7,1034.9C1257.12,1031.47 1255.5,1027.63 1253.5,1022.9C1251.5,1018.17 1248.98,1011.52 1246.7,1006.5C1244.42,1001.48 1242.38,997.49 1239.8,992.8C1237.22,988.11 1234.07,982.4 1231.2,978.38C1228.33,974.36 1225.47,971.58 1222.6,968.65C1219.73,965.72 1217.45,963.38 1214,960.82C1210.55,958.26 1206.2,955.64 1201.9,953.3C1197.6,950.96 1193.35,948.89 1188.2,946.8C1183.05,944.71 1176.73,942.58 1171,940.76C1165.27,938.94 1159.53,937.3 1153.8,935.91C1148.07,934.52 1142.33,933.47 1136.6,932.43C1130.87,931.39 1124.98,930.5 1119.4,929.66C1113.82,928.82 1105.82,927.78 1103.1,927.4" fill="none" stroke="#A93226" stroke-width="4" stroke-linejoin="round" stroke-linecap="butt"/>
<path d="M1101.2,848.05H1132.1V842L1143.3,850.45L1132.1,858.9V852.85H1101.2z" fill="#000"/>
<text x="1408.2" y="1009.9" font-size="26.6">150 mV/s</text>
<g font-family='"Liberation Serif","DejaVu Serif",serif'><text transform="translate(1230.67,1248.3) scale(0.85,1)" font-size="54">(</text><text transform="translate(1260.6,1247.4) scale(1.1,1)" font-size="47" text-anchor="middle">d</text><text transform="translate(1275.24,1248.3) scale(0.85,1)" font-size="54">)</text></g>
</g>
<g id="panel-e">
<path d="M134.5,1307.55 V1711.7M133,1710.2 H656.45" fill="none" stroke="#000" stroke-width="3"/>
<path d="M122.8,1710.2H146.2M134.5,1696.83H142.1M134.5,1683.45H142.1M134.5,1670.08H142.1M134.5,1656.71H142.1M122.8,1643.34H146.2M134.5,1629.96H142.1M134.5,1616.59H142.1M134.5,1603.22H142.1M134.5,1589.84H142.1M122.8,1576.47H146.2M134.5,1563.1H142.1M134.5,1549.72H142.1M134.5,1536.35H142.1M134.5,1522.98H142.1M122.8,1509.61H146.2M134.5,1496.23H142.1M134.5,1482.86H142.1M134.5,1469.49H142.1M134.5,1456.11H142.1M122.8,1442.74H146.2M134.5,1429.37H142.1M134.5,1415.99H142.1M134.5,1402.62H142.1M134.5,1389.25H142.1M122.8,1375.88H146.2M134.5,1362.5H142.1M134.5,1349.13H142.1M134.5,1335.76H142.1M134.5,1322.38H142.1M122.8,1309.01H146.2M653.78,1702.6V1710.2M635.85,1702.6V1710.2M617.91,1702.6V1710.2M599.98,1698.5V1721.9M582.04,1702.6V1710.2M564.1,1702.6V1710.2M546.17,1702.6V1710.2M528.24,1702.6V1710.2M510.3,1698.5V1721.9M492.37,1702.6V1710.2M474.43,1702.6V1710.2M456.5,1702.6V1710.2M438.56,1702.6V1710.2M420.62,1698.5V1721.9M402.69,1702.6V1710.2M384.75,1702.6V1710.2M366.82,1702.6V1710.2M348.88,1702.6V1710.2M330.95,1698.5V1721.9M313.01,1702.6V1710.2M295.08,1702.6V1710.2M277.14,1702.6V1710.2M259.21,1702.6V1710.2M241.27,1698.5V1721.9M223.34,1702.6V1710.2M205.4,1702.6V1710.2M187.47,1702.6V1710.2M169.53,1702.6V1710.2M151.6,1698.5V1721.9" fill="none" stroke="#000" stroke-width="2.9"/>
<g font-size="22.3" text-anchor="end"><text x="112.9" y="1317.31">0.15</text><text x="112.9" y="1384.17">0.10</text><text x="112.9" y="1451.04">0.05</text><text x="112.9" y="1517.9">0.00</text><text x="112.9" y="1584.77">−0.05</text><text x="112.9" y="1651.63">−0.10</text><text x="112.9" y="1718.5">−0.15</text></g>
<g font-size="22.3" text-anchor="middle"><text x="151.6" y="1748.7">0.75</text><text x="241.27" y="1748.7">0.50</text><text x="330.95" y="1748.7">0.25</text><text x="420.62" y="1748.7">0.00</text><text x="510.3" y="1748.7">−0.25</text><text x="599.98" y="1748.7">−0.50</text></g>
<text x="393.95" y="1783.4" font-size="26.6" text-anchor="middle">Potential (V vs SCE)</text>
<text transform="translate(24.2,1511.9) rotate(-90)" font-size="26.6" text-anchor="middle">Current Density (mA/cm<tspan dy="-10.2" font-size="18.62">2</tspan><tspan dy="10.2">)</tspan></text>
<path d="M189.5,1500.9C199.58,1500.9 231.58,1500.9 250,1500.9C268.42,1500.9 287.53,1500.95 300,1500.9C312.47,1500.85 317.8,1500.83 324.8,1500.6C331.8,1500.37 337.7,1500.03 342,1499.5C346.3,1498.97 347.73,1498.4 350.6,1497.4C353.47,1496.4 356.27,1495.3 359.2,1493.5C362.13,1491.7 365.2,1489.9 368.16,1486.6C371.12,1483.3 374.03,1479 376.99,1473.7C379.95,1468.4 382.99,1461.97 385.93,1454.8C388.87,1447.63 391.75,1439.02 394.64,1430.7C397.53,1422.38 400.42,1413.22 403.3,1404.9C406.19,1396.58 409.07,1388.25 411.95,1380.8C414.83,1373.35 417.96,1366 420.6,1360.2C423.24,1354.4 425.5,1349.27 427.8,1346C430.1,1342.73 432.3,1341.57 434.4,1340.6C436.5,1339.63 438.1,1339.23 440.4,1340.2C442.7,1341.17 445.77,1343.93 448.2,1346.4C450.63,1348.87 452.43,1351.55 455,1355C457.57,1358.45 460.73,1363.37 463.6,1367.1C466.47,1370.83 469.05,1373.68 472.2,1377.4C475.35,1381.12 479.05,1385.82 482.5,1389.4C485.95,1392.98 489.45,1396.03 492.9,1398.9C496.35,1401.77 498.62,1403.6 503.2,1406.6C507.78,1409.6 514.67,1413.88 520.4,1416.9C526.13,1419.92 531.87,1422.4 537.6,1424.7C543.33,1427 549.07,1428.98 554.8,1430.7C560.53,1432.42 566.27,1433.77 572,1435C577.73,1436.23 583.47,1437.1 589.2,1438.1C594.93,1439.1 601.38,1440.17 606.4,1441C611.42,1441.83 617.15,1442.75 619.3,1443.1L619.3,1443.1L619.3,1460.8L619.3,1460.8C617.15,1461.08 611.42,1461.78 606.4,1462.5C601.38,1463.22 594.93,1464.32 589.2,1465.1C583.47,1465.88 577.73,1466.57 572,1467.2C566.27,1467.83 560.53,1468.33 554.8,1468.9C549.07,1469.47 543.33,1470.03 537.6,1470.6C531.87,1471.17 526.13,1471.73 520.4,1472.3C514.67,1472.87 508.93,1473.4 503.2,1474C497.47,1474.6 491.73,1475.18 486,1475.88C480.27,1476.59 474.53,1477.29 468.8,1478.23C463.07,1479.17 456.47,1480.33 451.6,1481.53C446.73,1482.73 443.33,1483.83 439.6,1485.46C435.87,1487.09 432.37,1489.03 429.2,1491.31C426.03,1493.59 423.32,1496.2 420.6,1499.13C417.88,1502.06 415.36,1505.69 412.87,1508.9C410.38,1512.11 408.01,1514.95 405.65,1518.4C403.29,1521.85 400.92,1525.5 398.7,1529.6C396.48,1533.7 394.52,1537.93 392.3,1543C390.08,1548.07 387.42,1554.5 385.4,1560C383.38,1565.5 381.92,1570.5 380.2,1576C378.48,1581.5 376.82,1587.33 375.1,1593C373.38,1598.67 371.59,1604.5 369.9,1610C368.21,1615.5 366.52,1621 364.94,1626C363.36,1631 362.07,1635.92 360.4,1640C358.73,1644.08 356.68,1648.18 354.9,1650.5C353.12,1652.82 351.28,1653.85 349.7,1653.9C348.12,1653.95 346.98,1652.75 345.4,1650.8C343.82,1648.85 342.2,1646.07 340.2,1642.2C338.2,1638.33 335.97,1632.75 333.4,1627.6C330.83,1622.45 327.67,1616.03 324.8,1611.3C321.93,1606.57 319.65,1603.37 316.2,1599.2C312.75,1595.03 308.4,1590.08 304.1,1586.3C299.8,1582.52 295.55,1579.65 290.4,1576.5C285.25,1573.35 278.93,1569.92 273.2,1567.4C267.47,1564.88 261.73,1563.2 256,1561.4C250.27,1559.6 244.53,1558.08 238.8,1556.6C233.07,1555.12 227.33,1553.77 221.6,1552.5C215.87,1551.23 209.67,1550 204.4,1549C199.13,1548 192.4,1546.92 190,1546.5" fill="none" stroke="#000" stroke-width="4" stroke-dasharray="4 6.6" stroke-linejoin="round"/>
<path d="M189.4,1516.3C189.6,1515.37 189.97,1512.35 190.6,1510.7C191.23,1509.05 191.77,1507.47 193.2,1506.4C194.63,1505.33 195.9,1504.88 199.2,1504.3C202.5,1503.72 206.4,1503.27 213,1502.9C219.6,1502.53 228.77,1502.33 238.8,1502.1C248.83,1501.87 261.73,1501.65 273.2,1501.5C284.67,1501.35 299,1501.3 307.6,1501.2C316.2,1501.1 319.93,1501.18 324.8,1500.9C329.67,1500.62 333.08,1500.22 336.8,1499.5C340.52,1498.78 343.95,1497.9 347.1,1496.6C350.25,1495.3 352.83,1493.95 355.7,1491.7C358.57,1489.45 361.34,1486.82 364.3,1483.1C367.26,1479.38 370.42,1474.98 373.46,1469.4C376.5,1463.82 379.53,1456.92 382.52,1449.6C385.51,1442.28 388.48,1433.52 391.39,1425.5C394.3,1417.48 397.12,1409.23 400,1401.5C402.88,1393.77 405.8,1385.98 408.7,1379.1C411.6,1372.22 414.93,1365.07 417.39,1360.2C419.85,1355.33 421.61,1352.33 423.46,1349.9C425.31,1347.47 426.68,1346.52 428.5,1345.6C430.32,1344.68 432.27,1344.12 434.4,1344.4C436.53,1344.68 439,1345.67 441.3,1347.3C443.6,1348.93 445.63,1351.33 448.2,1354.2C450.77,1357.07 453.85,1361.2 456.7,1364.5C459.55,1367.8 462.13,1370.85 465.3,1374C468.47,1377.15 472.25,1380.55 475.7,1383.4C479.15,1386.25 481.42,1387.95 486,1391.1C490.58,1394.25 497.47,1398.85 503.2,1402.3C508.93,1405.75 514.67,1408.93 520.4,1411.8C526.13,1414.67 531.87,1417.36 537.6,1419.5C543.33,1421.64 549.07,1422.98 554.8,1424.63C560.53,1426.28 566.27,1428.04 572,1429.4C577.73,1430.76 583.47,1431.8 589.2,1432.8C594.93,1433.8 601.48,1434.6 606.4,1435.4C611.32,1436.2 616.65,1437.23 618.7,1437.6L618.7,1437.6L618.7,1447.9L618.7,1447.9C618.22,1448.53 617.28,1450.55 615.8,1451.7C614.32,1452.85 612.8,1453.72 609.8,1454.8C606.8,1455.88 602.67,1457 597.8,1458.2C592.93,1459.4 586.33,1461.07 580.6,1462C574.87,1462.93 569.13,1463.07 563.4,1463.81C557.67,1464.55 551.93,1465.53 546.2,1466.47C540.47,1467.41 534.73,1468.41 529,1469.43C523.27,1470.45 517.53,1471.59 511.8,1472.59C506.07,1473.59 500.33,1474.18 494.6,1475.45C488.87,1476.72 483.13,1478.72 477.4,1480.19C471.67,1481.66 465.07,1483.08 460.2,1484.27C455.33,1485.46 451.93,1486.16 448.2,1487.34C444.47,1488.51 440.97,1489.69 437.8,1491.32C434.63,1492.94 431.77,1494.89 429.2,1497.09C426.63,1499.28 424.82,1501.37 422.4,1504.49C419.98,1507.61 417.22,1511.76 414.66,1515.8C412.1,1519.84 409.42,1524.5 407.04,1528.7C404.66,1532.9 402.66,1536.28 400.4,1541C398.14,1545.72 395.8,1551.33 393.5,1557C391.2,1562.67 388.9,1568.83 386.6,1575C384.3,1581.17 381.93,1587.67 379.7,1594C377.47,1600.33 375.37,1606.67 373.23,1613C371.09,1619.33 368.94,1626.33 366.88,1632C364.82,1637.67 362.9,1643.2 360.9,1647C358.9,1650.8 356.92,1653.07 354.9,1654.8C352.88,1656.53 351.04,1657.63 348.8,1657.4C346.56,1657.17 343.61,1655.35 341.48,1653.4C339.35,1651.45 337.76,1648.85 336,1645.7C334.24,1642.55 332.9,1638.67 330.9,1634.5C328.9,1630.33 326.58,1625.28 324,1620.7C321.42,1616.12 318.25,1610.87 315.4,1607C312.55,1603.13 309.66,1600.23 306.93,1597.5C304.2,1594.77 302.34,1592.95 299,1590.6C295.66,1588.25 291.2,1585.68 286.9,1583.4C282.6,1581.12 278.35,1578.9 273.2,1576.9C268.05,1574.9 261.73,1573.07 256,1571.4C250.27,1569.73 244.53,1568.22 238.8,1566.9C233.07,1565.58 227.33,1564.57 221.6,1563.5C215.87,1562.43 210.13,1561.52 204.4,1560.5C198.67,1559.48 190.07,1557.92 187.2,1557.4" fill="none" stroke="#A93226" stroke-width="3.9" stroke-linejoin="round" stroke-linecap="butt"/>
<path d="M186.3,1474.55H215V1465.05L228.3,1476.4L215,1487.75V1478.25H186.3z" fill="#000"/>
<text x="492.2" y="1643.9" font-size="26.6">200 mV/s</text>
<g font-family='"Liberation Serif","DejaVu Serif",serif'><text transform="translate(318.81,1886.3) scale(0.85,1)" font-size="54">(</text><text transform="translate(346,1885.4) scale(1.1,1)" font-size="47" text-anchor="middle">e</text><text transform="translate(357.91,1886.3) scale(0.85,1)" font-size="54">)</text></g>
</g>
<g id="panel-f">
<path d="M1049.4,1307.55 V1711.7M1047.9,1710.2 H1571.35" fill="none" stroke="#000" stroke-width="3"/>
<path d="M1037.7,1710.2H1061.1M1049.4,1696.83H1057M1049.4,1683.45H1057M1049.4,1670.08H1057M1049.4,1656.71H1057M1037.7,1643.34H1061.1M1049.4,1629.96H1057M1049.4,1616.59H1057M1049.4,1603.22H1057M1049.4,1589.84H1057M1037.7,1576.47H1061.1M1049.4,1563.1H1057M1049.4,1549.72H1057M1049.4,1536.35H1057M1049.4,1522.98H1057M1037.7,1509.61H1061.1M1049.4,1496.23H1057M1049.4,1482.86H1057M1049.4,1469.49H1057M1049.4,1456.11H1057M1037.7,1442.74H1061.1M1049.4,1429.37H1057M1049.4,1415.99H1057M1049.4,1402.62H1057M1049.4,1389.25H1057M1037.7,1375.88H1061.1M1049.4,1362.5H1057M1049.4,1349.13H1057M1049.4,1335.76H1057M1049.4,1322.38H1057M1037.7,1309.01H1061.1M1568.68,1702.6V1710.2M1550.74,1702.6V1710.2M1532.81,1702.6V1710.2M1514.88,1698.5V1721.9M1496.94,1702.6V1710.2M1479,1702.6V1710.2M1461.07,1702.6V1710.2M1443.13,1702.6V1710.2M1425.2,1698.5V1721.9M1407.26,1702.6V1710.2M1389.33,1702.6V1710.2M1371.39,1702.6V1710.2M1353.46,1702.6V1710.2M1335.53,1698.5V1721.9M1317.59,1702.6V1710.2M1299.65,1702.6V1710.2M1281.72,1702.6V1710.2M1263.79,1702.6V1710.2M1245.85,1698.5V1721.9M1227.91,1702.6V1710.2M1209.98,1702.6V1710.2M1192.05,1702.6V1710.2M1174.11,1702.6V1710.2M1156.17,1698.5V1721.9M1138.24,1702.6V1710.2M1120.31,1702.6V1710.2M1102.37,1702.6V1710.2M1084.43,1702.6V1710.2M1066.5,1698.5V1721.9" fill="none" stroke="#000" stroke-width="2.9"/>
<g font-size="22.3" text-anchor="end"><text x="1027.8" y="1317.31">0.15</text><text x="1027.8" y="1384.17">0.10</text><text x="1027.8" y="1451.04">0.05</text><text x="1027.8" y="1517.9">0.00</text><text x="1027.8" y="1584.77">−0.05</text><text x="1027.8" y="1651.63">−0.10</text><text x="1027.8" y="1718.5">−0.15</text></g>
<g font-size="22.3" text-anchor="middle"><text x="1066.5" y="1748.7">0.75</text><text x="1156.17" y="1748.7">0.50</text><text x="1245.85" y="1748.7">0.25</text><text x="1335.53" y="1748.7">0.00</text><text x="1425.2" y="1748.7">−0.25</text><text x="1514.88" y="1748.7">−0.50</text></g>
<text x="1308.85" y="1783.4" font-size="26.6" text-anchor="middle">Potential (V vs SCE)</text>
<text transform="translate(939.1,1511.9) rotate(-90)" font-size="26.6" text-anchor="middle">Current Density (mA/cm<tspan dy="-10.2" font-size="18.62">2</tspan><tspan dy="10.2">)</tspan></text>
<path d="M1104,1498.1C1113.33,1498.1 1142.33,1498.1 1160,1498.1C1177.67,1498.1 1196.67,1498.12 1210,1498.1C1223.33,1498.08 1232.17,1498.12 1240,1498C1247.83,1497.88 1252.73,1497.87 1257,1497.4C1261.27,1496.93 1262.62,1496.43 1265.6,1495.2C1268.57,1493.97 1271.84,1492.15 1274.85,1490C1277.86,1487.85 1280.72,1485.88 1283.68,1482.3C1286.64,1478.72 1289.67,1474.08 1292.62,1468.5C1295.57,1462.92 1298.48,1456.1 1301.39,1448.8C1304.3,1441.5 1307.2,1433.17 1310.09,1424.7C1312.97,1416.23 1315.83,1406.75 1318.7,1398C1321.57,1389.25 1324.43,1380.22 1327.3,1372.2C1330.17,1364.18 1333.39,1356.1 1335.9,1349.9C1338.41,1343.7 1340.48,1338.9 1342.33,1335C1344.18,1331.1 1345.51,1328.4 1347,1326.5C1348.49,1324.6 1349.87,1324.23 1351.3,1323.6C1352.73,1322.97 1353.6,1322.05 1355.6,1322.7C1357.6,1323.35 1360.87,1325.4 1363.3,1327.5C1365.73,1329.6 1367.62,1332 1370.2,1335.3C1372.78,1338.6 1375.93,1343.3 1378.8,1347.3C1381.67,1351.3 1384.25,1355.15 1387.4,1359.3C1390.55,1363.45 1394.27,1368.33 1397.7,1372.2C1401.13,1376.07 1403.98,1378.92 1408,1382.5C1412.02,1386.08 1416.63,1390.02 1421.8,1393.7C1426.97,1397.38 1433.27,1401.45 1439,1404.6C1444.73,1407.75 1450.47,1410.17 1456.2,1412.6C1461.93,1415.03 1467.67,1417.27 1473.4,1419.2C1479.13,1421.13 1484.87,1422.72 1490.6,1424.2C1496.33,1425.68 1502.07,1426.87 1507.8,1428.1C1513.53,1429.33 1520.57,1430.73 1525,1431.6C1529.43,1432.47 1532.83,1433.02 1534.4,1433.3L1534.4,1433.3L1534.4,1455.6L1534.4,1455.6C1532.83,1455.82 1529.43,1456.2 1525,1456.9C1520.57,1457.6 1513.53,1458.99 1507.8,1459.8C1502.07,1460.61 1496.33,1461.14 1490.6,1461.77C1484.87,1462.4 1479.13,1462.94 1473.4,1463.6C1467.67,1464.25 1461.93,1465.07 1456.2,1465.7C1450.47,1466.33 1444.73,1466.8 1439,1467.4C1433.27,1468 1427.53,1468.57 1421.8,1469.3C1416.07,1470.03 1410.33,1470.63 1404.6,1471.8C1398.87,1472.97 1393.13,1474.83 1387.4,1476.3C1381.67,1477.77 1375.07,1479.17 1370.2,1480.6C1365.33,1482.03 1361.83,1483.33 1358.2,1484.9C1354.58,1486.47 1351.9,1487.72 1348.45,1490C1345,1492.28 1340.76,1495.58 1337.5,1498.6C1334.24,1501.62 1331.48,1504.95 1328.9,1508.1C1326.32,1511.25 1324.28,1513.92 1322,1517.5C1319.72,1521.08 1317.2,1525.87 1315.2,1529.6C1313.2,1533.33 1311.7,1536.33 1310,1539.9C1308.3,1543.47 1306.38,1547.65 1305,1551C1303.62,1554.35 1303.12,1555.68 1301.7,1560C1300.28,1564.32 1298.22,1570.37 1296.5,1576.9C1294.78,1583.43 1293.12,1591.75 1291.4,1599.2C1289.68,1606.65 1287.93,1614.43 1286.2,1621.6C1284.47,1628.77 1282.72,1635.9 1281,1642.2C1279.28,1648.5 1277.62,1654.67 1275.9,1659.4C1274.18,1664.13 1272.42,1668.3 1270.7,1670.6C1268.98,1672.9 1267.32,1673.48 1265.6,1673.2C1263.88,1672.92 1262.42,1671.63 1260.4,1668.9C1258.38,1666.17 1255.78,1661.38 1253.5,1656.8C1251.22,1652.22 1248.98,1646.42 1246.7,1641.4C1244.42,1636.38 1242.38,1631.58 1239.8,1626.7C1237.22,1621.82 1234.65,1616.97 1231.2,1612.1C1227.75,1607.23 1223.4,1601.8 1219.1,1597.5C1214.8,1593.2 1210.55,1589.88 1205.4,1586.3C1200.25,1582.72 1193.93,1578.87 1188.2,1576C1182.47,1573.13 1176.73,1571.18 1171,1569.1C1165.27,1567.02 1159.53,1565.22 1153.8,1563.5C1148.07,1561.78 1142.33,1560.23 1136.6,1558.8C1130.87,1557.37 1124.85,1556.13 1119.4,1554.9C1113.95,1553.67 1106.48,1551.98 1103.9,1551.4" fill="none" stroke="#000" stroke-width="4" stroke-dasharray="4 6.6" stroke-linejoin="round"/>
<path d="M1104.4,1516.3C1104.6,1515.27 1104.97,1511.9 1105.6,1510.1C1106.23,1508.3 1106.77,1506.75 1108.2,1505.5C1109.63,1504.25 1110.9,1503.43 1114.2,1502.6C1117.5,1501.77 1121.4,1501.02 1128,1500.5C1134.6,1499.98 1143.77,1499.73 1153.8,1499.5C1163.83,1499.27 1176.73,1499.22 1188.2,1499.1C1199.67,1498.98 1214,1498.93 1222.6,1498.8C1231.2,1498.67 1234.93,1498.62 1239.8,1498.3C1244.67,1497.98 1248.08,1497.62 1251.8,1496.9C1255.52,1496.18 1258.86,1495.35 1262.1,1494C1265.34,1492.65 1268.22,1491.18 1271.24,1488.8C1274.26,1486.42 1277.2,1483.65 1280.19,1479.7C1283.18,1475.75 1286.21,1470.83 1289.18,1465.1C1292.15,1459.37 1295.09,1452.75 1298.01,1445.3C1300.93,1437.85 1303.82,1428.85 1306.7,1420.4C1309.58,1411.95 1312.43,1402.92 1315.3,1394.6C1318.17,1386.28 1321.03,1377.95 1323.9,1370.5C1326.77,1363.05 1329.92,1355.35 1332.5,1349.9C1335.08,1344.45 1337.2,1340.9 1339.4,1337.8C1341.6,1334.7 1343.4,1332.73 1345.72,1331.3C1348.04,1329.87 1350.95,1328.97 1353.31,1329.2C1355.67,1329.43 1357.67,1330.97 1359.9,1332.7C1362.13,1334.43 1364.13,1336.6 1366.7,1339.6C1369.27,1342.6 1372.43,1347.27 1375.3,1350.7C1378.17,1354.13 1380.73,1357.05 1383.9,1360.2C1387.07,1363.35 1390.57,1366.6 1394.3,1369.6C1398.03,1372.6 1401.72,1375.12 1406.3,1378.2C1410.88,1381.28 1416.35,1384.77 1421.8,1388.05C1427.25,1391.33 1433.27,1394.83 1439,1397.9C1444.73,1400.98 1450.47,1403.92 1456.2,1406.5C1461.93,1409.08 1467.67,1411.34 1473.4,1413.4C1479.13,1415.46 1484.87,1417.19 1490.6,1418.87C1496.33,1420.55 1502.07,1422.24 1507.8,1423.5C1513.53,1424.76 1520.67,1425.72 1525,1426.4C1529.33,1427.08 1532.33,1427.4 1533.8,1427.6L1533.8,1427.6L1533.6,1441L1533.6,1441C1533.17,1441.95 1532.43,1445.08 1531,1446.7C1529.57,1448.32 1528.02,1449.4 1525,1450.7C1521.98,1452 1517.2,1453.35 1512.9,1454.5C1508.6,1455.65 1504.35,1456.73 1499.2,1457.63C1494.05,1458.53 1487.73,1459.01 1482,1459.9C1476.27,1460.8 1470.53,1461.98 1464.8,1463C1459.07,1464.02 1453.33,1464.93 1447.6,1466C1441.87,1467.07 1436.13,1468.27 1430.4,1469.4C1424.67,1470.53 1418.93,1471.52 1413.2,1472.8C1407.47,1474.08 1401.73,1475.58 1396,1477.1C1390.27,1478.62 1383.97,1480.4 1378.8,1481.9C1373.63,1483.4 1368.93,1484.75 1365,1486.1C1361.07,1487.45 1358.63,1488.35 1355.2,1490C1351.77,1491.65 1347.63,1493.57 1344.4,1496C1341.17,1498.43 1338.38,1501.43 1335.8,1504.6C1333.22,1507.77 1331.2,1510.98 1328.9,1515C1326.6,1519.02 1324.15,1523.95 1322,1528.7C1319.85,1533.45 1317.92,1538.53 1316,1543.5C1314.08,1548.47 1312.33,1553.33 1310.5,1558.5C1308.67,1563.67 1306.83,1569.08 1305,1574.5C1303.17,1579.92 1301.33,1585.5 1299.5,1591C1297.67,1596.5 1295.83,1602 1294,1607.5C1292.17,1613 1290.33,1618.58 1288.5,1624C1286.67,1629.42 1284.83,1634.92 1283,1640C1281.17,1645.08 1279.33,1650.17 1277.5,1654.5C1275.67,1658.83 1273.83,1662.95 1272,1666C1270.17,1669.05 1268.43,1671.38 1266.5,1672.8C1264.57,1674.22 1262.27,1674.72 1260.4,1674.5C1258.53,1674.28 1257.02,1673.3 1255.3,1671.5C1253.58,1669.7 1251.83,1666.72 1250.1,1663.7C1248.37,1660.68 1246.62,1656.98 1244.9,1653.4C1243.18,1649.82 1242.08,1646.65 1239.8,1642.2C1237.52,1637.75 1234.07,1631.13 1231.2,1626.7C1228.33,1622.27 1225.47,1618.88 1222.6,1615.6C1219.73,1612.32 1217.45,1609.87 1214,1607C1210.55,1604.13 1206.2,1601.07 1201.9,1598.4C1197.6,1595.73 1193.35,1593.45 1188.2,1591C1183.05,1588.55 1176.73,1585.83 1171,1583.7C1165.27,1581.57 1159.53,1579.85 1153.8,1578.2C1148.07,1576.55 1142.33,1575.12 1136.6,1573.8C1130.87,1572.48 1125.13,1571.45 1119.4,1570.3C1113.67,1569.15 1105.07,1567.47 1102.2,1566.9" fill="none" stroke="#A93226" stroke-width="3.9" stroke-linejoin="round" stroke-linecap="butt"/>
<path d="M1101.1,1474.45H1129.2V1464.85L1143.2,1476.3L1129.2,1487.75V1478.15H1101.1z" fill="#000"/>
<text x="1406.9" y="1642.7" font-size="26.6">250 mV/s</text>
<g font-family='"Liberation Serif","DejaVu Serif",serif'><text transform="translate(1236.78,1886.3) scale(0.85,1)" font-size="54">(</text><text transform="translate(1260.6,1885.4) scale(1.1,1)" font-size="47" text-anchor="middle">f</text><text transform="translate(1269.13,1886.3) scale(0.85,1)" font-size="54">)</text></g>
</g>
<g id="panel-g">
<path d="M592.5,1937.75 V2349.3M591,2347.8 H1114.45" fill="none" stroke="#000" stroke-width="3"/>
<path d="M592.5,2347.68H600.1M580.8,2335.3H604.2M592.5,2322.92H600.1M592.5,2310.55H600.1M592.5,2298.17H600.1M592.5,2285.79H600.1M580.8,2273.41H604.2M592.5,2261.04H600.1M592.5,2248.66H600.1M592.5,2236.28H600.1M592.5,2223.91H600.1M580.8,2211.53H604.2M592.5,2199.15H600.1M592.5,2186.78H600.1M592.5,2174.4H600.1M592.5,2162.02H600.1M580.8,2149.64H604.2M592.5,2137.27H600.1M592.5,2124.89H600.1M592.5,2112.51H600.1M592.5,2100.14H600.1M580.8,2087.76H604.2M592.5,2075.38H600.1M592.5,2063.01H600.1M592.5,2050.63H600.1M592.5,2038.25H600.1M580.8,2025.88H604.2M592.5,2013.5H600.1M592.5,2001.12H600.1M592.5,1988.74H600.1M592.5,1976.37H600.1M580.8,1963.99H604.2M592.5,1951.61H600.1M592.5,1939.24H600.1M1111.78,2340.2V2347.8M1093.85,2340.2V2347.8M1075.91,2340.2V2347.8M1057.97,2336.1V2359.5M1040.04,2340.2V2347.8M1022.11,2340.2V2347.8M1004.17,2340.2V2347.8M986.24,2340.2V2347.8M968.3,2336.1V2359.5M950.37,2340.2V2347.8M932.43,2340.2V2347.8M914.5,2340.2V2347.8M896.56,2340.2V2347.8M878.62,2336.1V2359.5M860.69,2340.2V2347.8M842.75,2340.2V2347.8M824.82,2340.2V2347.8M806.88,2340.2V2347.8M788.95,2336.1V2359.5M771.01,2340.2V2347.8M753.08,2340.2V2347.8M735.14,2340.2V2347.8M717.21,2340.2V2347.8M699.27,2336.1V2359.5M681.34,2340.2V2347.8M663.4,2340.2V2347.8M645.47,2340.2V2347.8M627.53,2340.2V2347.8M609.6,2336.1V2359.5" fill="none" stroke="#000" stroke-width="2.9"/>
<g font-size="22.3" text-anchor="end"><text x="570.9" y="1972.29">0.15</text><text x="570.9" y="2034.18">0.10</text><text x="570.9" y="2096.06">0.05</text><text x="570.9" y="2157.95">0.00</text><text x="570.9" y="2219.83">−0.05</text><text x="570.9" y="2281.72">−0.10</text><text x="570.9" y="2343.6">−0.15</text></g>
<g font-size="22.3" text-anchor="middle"><text x="609.6" y="2386.3">0.75</text><text x="699.27" y="2386.3">0.50</text><text x="788.95" y="2386.3">0.25</text><text x="878.62" y="2386.3">0.00</text><text x="968.3" y="2386.3">−0.25</text><text x="1057.97" y="2386.3">−0.50</text></g>
<text x="851.95" y="2421" font-size="26.6" text-anchor="middle">Potential (V vs SCE)</text>
<text transform="translate(482.2,2145.8) rotate(-90)" font-size="26.6" text-anchor="middle">Current Density (mA/cm<tspan dy="-10.2" font-size="18.62">2</tspan><tspan dy="10.2">)</tspan></text>
<path d="M647,2130.9C655.83,2130.9 682.83,2130.9 700,2130.9C717.17,2130.9 736.33,2130.9 750,2130.9C763.67,2130.9 773.67,2131 782,2130.9C790.33,2130.8 795.57,2130.82 800,2130.3C804.43,2129.78 805.64,2128.93 808.6,2127.8C811.56,2126.67 814.75,2125.52 817.77,2123.5C820.79,2121.48 823.71,2119 826.73,2115.7C829.75,2112.4 832.78,2108.85 835.87,2103.7C838.96,2098.55 842.15,2091.68 845.29,2084.8C848.43,2077.92 851.62,2070.43 854.69,2062.4C857.76,2054.37 860.78,2045.2 863.7,2036.6C866.62,2028 869.43,2019.4 872.21,2010.8C874.99,2002.2 877.82,1992.73 880.36,1985C882.9,1977.27 885.31,1969.83 887.44,1964.4C889.57,1958.97 891.16,1955.42 893.14,1952.4C895.12,1949.38 897.42,1947.52 899.3,1946.3C901.18,1945.08 902.4,1944.8 904.4,1945.1C906.4,1945.4 909,1946.32 911.3,1948.1C913.6,1949.88 915.62,1952.52 918.2,1955.8C920.78,1959.08 923.93,1963.78 926.8,1967.8C929.67,1971.82 932.25,1975.45 935.4,1979.9C938.55,1984.35 942.27,1990.2 945.7,1994.5C949.13,1998.8 951.98,2001.83 956,2005.7C960.02,2009.57 964.63,2013.55 969.8,2017.7C974.97,2021.85 981.27,2026.94 987,2030.6C992.73,2034.26 998.47,2037.07 1004.2,2039.64C1009.93,2042.21 1015.67,2044.04 1021.4,2046.01C1027.13,2047.98 1032.87,2049.88 1038.6,2051.46C1044.33,2053.04 1050.65,2054.39 1055.8,2055.5C1060.95,2056.61 1066.02,2057.47 1069.5,2058.1C1072.98,2058.73 1075.5,2059.1 1076.7,2059.3L1076.7,2059.3L1076.7,2095.1L1076.7,2095.1C1075.5,2095.53 1072.98,2096.78 1069.5,2097.7C1066.02,2098.62 1060.95,2099.67 1055.8,2100.6C1050.65,2101.53 1044.33,2102.43 1038.6,2103.3C1032.87,2104.17 1027.13,2105.02 1021.4,2105.8C1015.67,2106.58 1009.93,2107.2 1004.2,2108C998.47,2108.8 992.73,2109.75 987,2110.6C981.27,2111.45 975.53,2112.1 969.8,2113.1C964.07,2114.1 958.33,2115.3 952.6,2116.6C946.87,2117.9 941.13,2119.18 935.4,2120.9C929.67,2122.62 923.07,2125.03 918.2,2126.9C913.33,2128.77 909.93,2130.23 906.2,2132.1C902.47,2133.97 899.25,2135.95 895.8,2138.1C892.35,2140.25 888.6,2142.72 885.5,2145C882.4,2147.28 879.97,2149.23 877.19,2151.8C874.41,2154.37 871.35,2157.53 868.8,2160.4C866.25,2163.27 863.83,2166.4 861.9,2169C859.97,2171.6 859.42,2172.17 857.2,2176C854.98,2179.83 851.18,2186.33 848.6,2192C846.02,2197.67 843.7,2204.17 841.7,2210C839.7,2215.83 838.32,2220.83 836.6,2227C834.88,2233.17 833.12,2240.17 831.4,2247C829.68,2253.83 828.02,2260.93 826.3,2268C824.58,2275.07 822.87,2282.68 821.1,2289.4C819.33,2296.12 817.49,2303.13 815.69,2308.3C813.89,2313.47 812.06,2317.95 810.3,2320.4C808.53,2322.85 807.1,2323.07 805.1,2323C803.1,2322.93 800.58,2322.15 798.3,2320C796.02,2317.85 793.7,2314.33 791.4,2310.1C789.1,2305.87 786.8,2299.77 784.5,2294.6C782.2,2289.43 779.9,2283.68 777.6,2279.1C775.3,2274.52 773.28,2270.97 770.7,2267.1C768.12,2263.23 765.82,2260.07 762.1,2255.9C758.38,2251.73 753.55,2246.4 748.4,2242.1C743.25,2237.8 736.93,2233.53 731.2,2230.1C725.47,2226.67 719.73,2224 714,2221.5C708.27,2219 702.53,2217.02 696.8,2215.1C691.07,2213.18 685.33,2211.6 679.6,2210C673.87,2208.4 667.85,2206.73 662.4,2205.5C656.95,2204.27 649.48,2203.08 646.9,2202.6" fill="none" stroke="#000" stroke-width="4" stroke-dasharray="4 6.6" stroke-linejoin="round"/>
<path d="M646.9,2153.2C647.13,2151.83 647.58,2147.52 648.3,2145C649.02,2142.48 649.85,2139.88 651.2,2138.1C652.55,2136.32 653.97,2135.28 656.4,2134.3C658.83,2133.32 659.07,2132.67 665.8,2132.2C672.53,2131.73 685.9,2131.52 696.8,2131.5C707.7,2131.48 719.73,2131.92 731.2,2132.1C742.67,2132.28 757,2132.58 765.6,2132.6C774.2,2132.62 777.93,2132.48 782.8,2132.2C787.67,2131.92 791.08,2131.63 794.8,2130.9C798.52,2130.17 801.79,2129.23 805.1,2127.8C808.41,2126.37 811.54,2124.75 814.66,2122.3C817.77,2119.85 820.78,2117.07 823.79,2113.1C826.8,2109.13 829.76,2104.37 832.73,2098.5C835.7,2092.63 838.66,2085.35 841.62,2077.9C844.58,2070.45 847.39,2062.12 850.46,2053.8C853.53,2045.48 856.78,2036.6 860.05,2028C863.32,2019.4 866.87,2010.22 870.07,2002.2C873.27,1994.18 876.66,1985.63 879.24,1979.9C881.82,1974.17 883.57,1971.1 885.55,1967.8C887.53,1964.5 889.45,1962.03 891.12,1960.1C892.79,1958.17 893.68,1957.15 895.58,1956.2C897.48,1955.25 900.16,1954.18 902.5,1954.4C904.84,1954.62 906.98,1955.68 909.6,1957.5C912.22,1959.32 915.33,1962.43 918.2,1965.3C921.07,1968.17 923.93,1971.55 926.8,1974.7C929.67,1977.85 932.25,1981.05 935.4,1984.2C938.55,1987.35 941.98,1990.45 945.7,1993.6C949.42,1996.75 953.4,1999.8 957.7,2003.1C962,2006.4 966.62,2009.97 971.5,2013.4C976.38,2016.83 981.55,2020.4 987,2023.7C992.45,2027 998.47,2030.33 1004.2,2033.2C1009.93,2036.07 1015.67,2038.62 1021.4,2040.9C1027.13,2043.18 1032.87,2045.18 1038.6,2046.9C1044.33,2048.62 1050.65,2050.05 1055.8,2051.2C1060.95,2052.35 1065.97,2053.13 1069.5,2053.8C1073.03,2054.47 1075.75,2054.97 1077,2055.2L1077,2055.2C1076.9,2057.27 1076.85,2064.1 1076.4,2067.6C1075.95,2071.1 1075.45,2073.77 1074.3,2076.2C1073.15,2078.63 1071.73,2080.48 1069.5,2082.2C1067.27,2083.92 1064.62,2084.98 1060.9,2086.5C1057.18,2088.02 1052.35,2089.78 1047.2,2091.3C1042.05,2092.82 1035.73,2094.25 1030,2095.6C1024.27,2096.95 1018.53,2098.34 1012.8,2099.4C1007.07,2100.46 1001.33,2101.08 995.6,2101.98C989.87,2102.88 984.13,2103.68 978.4,2104.8C972.67,2105.92 966.93,2107.26 961.2,2108.7C955.47,2110.14 949.73,2111.69 944,2113.43C938.27,2115.17 932.53,2117.09 926.8,2119.14C921.07,2121.18 914.47,2123.74 909.6,2125.7C904.73,2127.66 901.33,2128.83 897.6,2130.9C893.87,2132.97 890.56,2135.33 887.2,2138.1C883.84,2140.87 880.35,2144.07 877.43,2147.5C874.51,2150.93 872.26,2154.25 869.67,2158.7C867.07,2163.15 864.36,2168.75 861.86,2174.2C859.37,2179.65 857.06,2185.43 854.7,2191.4C852.34,2197.37 850.03,2203.4 847.7,2210C845.37,2216.6 843.03,2223.83 840.7,2231C838.37,2238.17 835.94,2245.67 833.7,2253C831.46,2260.33 829.43,2268 827.28,2275C825.13,2282 822.93,2289 820.78,2295C818.63,2301 816.48,2306.75 814.37,2311C812.26,2315.25 809.97,2318.43 808.14,2320.5C806.31,2322.57 804.91,2322.85 803.4,2323.4C801.89,2323.95 800.48,2323.97 799.1,2323.8C797.72,2323.63 796.6,2323.4 795.12,2322.4C793.64,2321.4 792.01,2320 790.25,2317.8C788.49,2315.6 786.72,2313.07 784.58,2309.2C782.44,2305.33 779.66,2299.33 777.39,2294.6C775.12,2289.87 773.21,2285.38 770.96,2280.8C768.71,2276.22 766.51,2270.97 763.9,2267.1C761.29,2263.23 758.47,2260.53 755.3,2257.6C752.13,2254.67 748.92,2252.22 744.9,2249.5C740.88,2246.78 736.35,2243.97 731.2,2241.3C726.05,2238.63 719.73,2235.8 714,2233.5C708.27,2231.2 702.53,2229.3 696.8,2227.5C691.07,2225.7 685.33,2224.13 679.6,2222.7C673.87,2221.27 668.22,2220.05 662.4,2218.9C656.58,2217.75 647.65,2216.32 644.7,2215.8" fill="none" stroke="#A93226" stroke-width="3.9" stroke-linejoin="round" stroke-linecap="butt"/>
<path d="M643.8,2108.45H671V2099.65L686.1,2110.3L671,2120.95V2112.15H643.8z" fill="#000"/>
<text x="950.2" y="2272.7" font-size="26.6">350 mV/s</text>
<g font-family='"Liberation Serif","DejaVu Serif",serif'><text transform="translate(774.14,2523.9) scale(0.85,1)" font-size="54">(</text><text transform="translate(802.7,2523) scale(1.1,1)" font-size="47" text-anchor="middle">g</text><text transform="translate(815.98,2523.9) scale(0.85,1)" font-size="54">)</text></g>
</g>
</svg>
</body>
</html>
